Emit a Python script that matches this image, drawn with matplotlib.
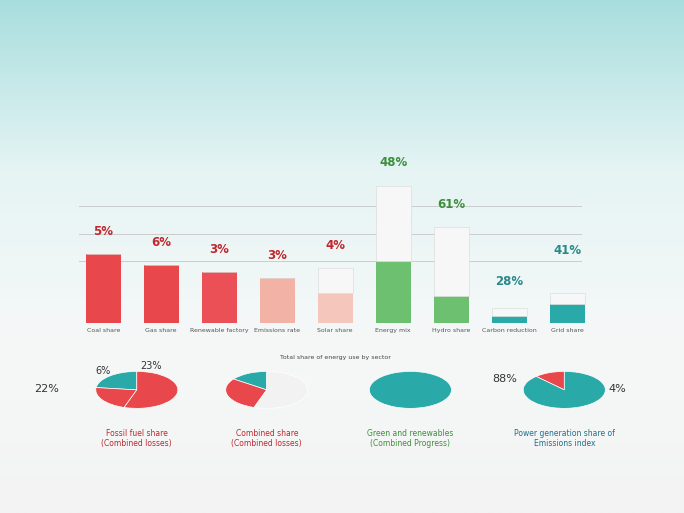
import matplotlib
matplotlib.use("Agg")
import matplotlib.pyplot as plt
import numpy as np
from matplotlib.colors import LinearSegmentedColormap

labels = ["5%", "6%", "3%", "3%", "4%", "48%", "61%", "28%", "41%"]
lower = [50, 42, 37, 33, 22, 45, 20, 5, 14]
upper = [0, 0, 0, 0, 18, 55, 50, 6, 8]
lower_colors = ["#e8474c", "#e8474c", "#ea5055", "#f2b3a6", "#f5c6bb", "#6cc070", "#6cc070", "#2aa9a9", "#2aa9a9"]
label_colors = ["#c0282d"] * 5 + ["#3d8f3d"] * 2 + ["#2a8a8a"] * 2
categories = ["Coal share", "Gas share", "Renewable factory", "Emissions rate", "Solar share",
              "Energy mix", "Hydro share", "Carbon reduction", "Grid share"]
label_y = [95, 85, 88, 82, 70, 128, 98, 28, 50]

pie_values = [[23, 22, 55], [15, 30, 55], [100], [12, 88]]
pie_colors = [["#2aa9a9", "#e8474c", "#e8474c"], ["#2aa9a9", "#e8474c", "#f2f2f2"], ["#2aa9a9"], ["#e8474c", "#2aa9a9"]]
pie_titles = ["Fossil fuel share\n(Combined losses)", "Combined share\n(Combined losses)",
              "Green and renewables\n(Combined Progress)", "Power generation share of\nEmissions index"]

fig = plt.figure(figsize=(6.84, 5.13), dpi=100)
bg = fig.add_axes([0, 0, 1, 1])
grad = np.linspace(0, 1, 256).reshape(-1, 1)
cmap = LinearSegmentedColormap.from_list("bg", ["#a9dede", "#e6f4f4", "#f6f8f8", "#f3f3f3"])
bg.imshow(grad, aspect="auto", cmap=cmap, extent=[0, 1, 0, 1], origin="upper")
bg.axis("off")

ax = fig.add_axes([0.1, 0.37, 0.78, 0.33])
ax.set_facecolor("none")
x = np.arange(len(labels))
ax.bar(x, lower, width=0.6, color=lower_colors)
ax.bar(x, upper, bottom=lower, width=0.6, color="#f7f7f7", edgecolor="#dddddd", linewidth=0.5)
for yy in [45, 65, 85]:
    ax.axhline(yy, xmin=0.02, xmax=0.96, color="#cccccc", lw=0.7, zorder=0)
for i in x:
    ax.text(i, lower[i] + upper[i] + 14 if i not in (7, 8) else label_y[i], labels[i],
            ha="center", color=label_colors[i], fontsize=8.5, fontweight="bold")
ax.set_xlim(-0.6, 8.6)
ax.set_ylim(0, 123)
ax.set_xticks(x)
ax.set_xticklabels(categories, fontsize=4.5, color="#555555")
ax.tick_params(length=0)
for s in ax.spines.values():
    s.set_visible(False)
ax.set_yticks([])

fig.text(0.49, 0.3, "Total share of energy use by sector", fontsize=4.5, ha="center", color="#444444")

centers = [0.2, 0.39, 0.6, 0.825]
for i, c in enumerate(centers):
    pa = fig.add_axes([c - 0.075, 0.195, 0.15, 0.09])
    pa.pie(pie_values[i], colors=pie_colors[i], startangle=90,
           wedgeprops=dict(edgecolor="white", linewidth=0.5))
    pa.set_aspect("auto")
    pa.axis("off")
    fig.text(c, 0.13, pie_titles[i], ha="center", fontsize=5.5,
             color=["#c0282d", "#c0282d", "#3d8f3d", "#1f6f8f"][i])

fig.text(0.05, 0.235, "22%", fontsize=8, color="#333333")
fig.text(0.14, 0.27, "6%", fontsize=7, color="#333333")
fig.text(0.205, 0.28, "23%", fontsize=7, color="#333333")
fig.text(0.72, 0.255, "88%", fontsize=8, color="#333333")
fig.text(0.89, 0.235, "4%", fontsize=8, color="#333333")

fig.savefig("out.png", dpi=100)
